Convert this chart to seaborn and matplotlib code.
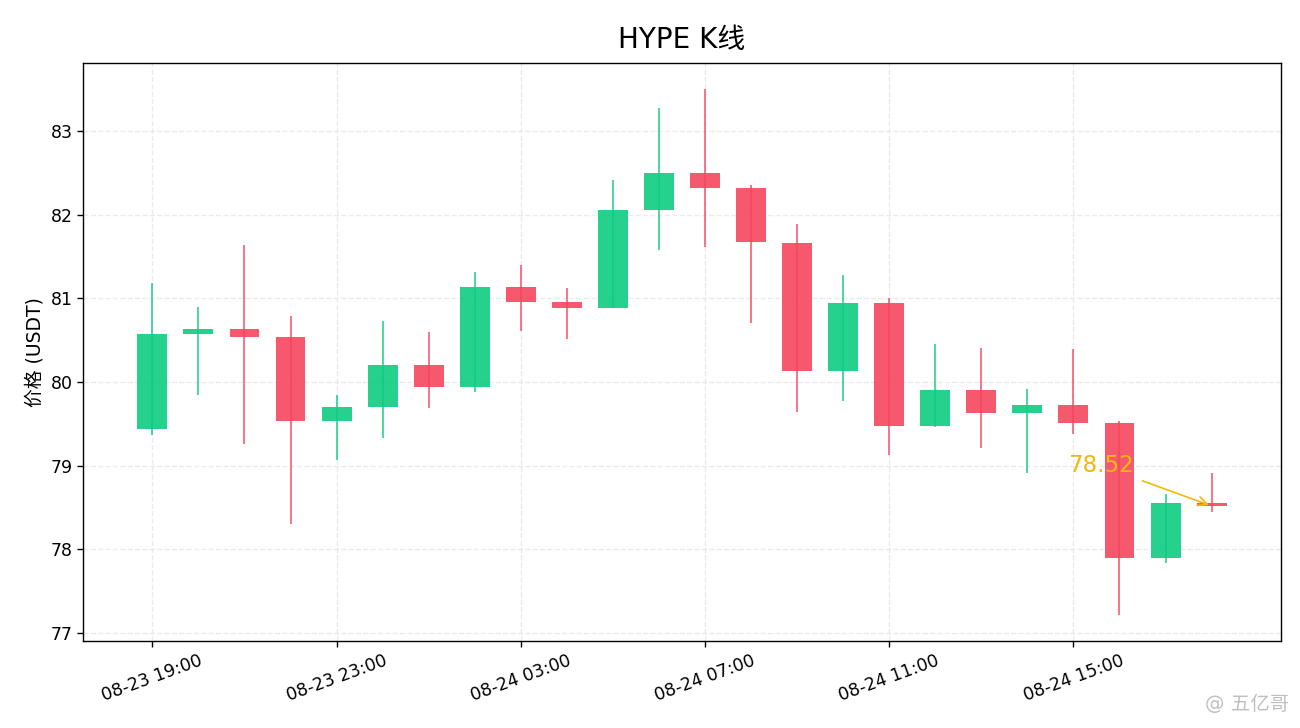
import numpy as np
import pandas as pd
import matplotlib
matplotlib.use("Agg")
import matplotlib.pyplot as plt
import seaborn as sns

times = ["08-23 19:00", "08-23 20:00", "08-23 21:00", "08-23 22:00", "08-23 23:00",
         "08-24 00:00", "08-24 01:00", "08-24 02:00", "08-24 03:00", "08-24 04:00",
         "08-24 05:00", "08-24 06:00", "08-24 07:00", "08-24 08:00", "08-24 09:00",
         "08-24 10:00", "08-24 11:00", "08-24 12:00", "08-24 13:00", "08-24 14:00",
         "08-24 15:00", "08-24 16:00", "08-24 17:00", "08-24 18:00"]
opens = [79.44, 80.58, 80.64, 80.54, 79.54, 79.70, 80.21, 79.94, 81.14, 80.96,
         80.89, 82.06, 82.50, 82.32, 81.66, 80.13, 80.95, 79.47, 79.90, 79.63,
         79.73, 79.51, 77.90, 78.56]
highs = [81.19, 80.90, 81.64, 80.79, 79.85, 80.73, 80.60, 81.31, 81.40, 81.13,
         82.42, 83.27, 83.50, 82.36, 81.89, 81.28, 81.01, 80.45, 80.41, 79.92,
         80.39, 79.54, 78.66, 78.91]
lows = [79.37, 79.84, 79.26, 78.30, 79.07, 79.33, 79.69, 79.88, 80.61, 80.52,
        80.88, 81.58, 81.61, 80.71, 79.64, 79.77, 79.13, 79.46, 79.21, 78.91,
        79.38, 77.22, 77.84, 78.45]
closes = [80.57, 80.64, 80.54, 79.54, 79.70, 80.21, 79.94, 81.14, 80.96, 80.89,
          82.06, 82.50, 82.32, 81.67, 80.13, 80.95, 79.47, 79.90, 79.63, 79.73,
          79.51, 77.90, 78.56, 78.52]
tick_every = 4

df = pd.DataFrame({"time": times, "open": opens, "high": highs,
                   "low": lows, "close": closes})
df["idx"] = np.arange(len(df))
df["up"] = df["close"] >= df["open"]

GREEN = "#0ECB81"
RED = "#F6465D"
GOLD = "#F0B90B"

sns.set_theme(style="ticks")
plt.rcParams["font.family"] = ["DejaVu Sans", "Noto Sans CJK SC"]
plt.rcParams["axes.unicode_minus"] = False
for k in ["text.color", "axes.labelcolor", "xtick.color", "ytick.color"]:
    plt.rcParams[k] = "black"

fig, ax = plt.subplots(figsize=(13, 7.28), dpi=100)
fig.subplots_adjust(left=0.0638, right=0.9854, top=0.9135, bottom=0.1195)

colors = np.where(df["up"], GREEN, RED)

ax.vlines(df["idx"], df["low"], df["high"], colors=colors, linewidth=1.4,
          alpha=0.75, zorder=2)
body_bottom = np.minimum(df["open"], df["close"])
body_height = np.abs(df["close"] - df["open"])
ax.bar(df["idx"], body_height, bottom=body_bottom, width=0.65, color=colors,
       alpha=0.9, linewidth=0, zorder=3)

last = df.iloc[-1]
ax.annotate(f"{last['close']:.2f}", xy=(last["idx"], last["close"]),
            xytext=(20.6, 79.0), textcoords="data", ha="center", va="center",
            fontsize=16.5, color=GOLD,
            arrowprops=dict(arrowstyle="->", color=GOLD, lw=1.2,
                            shrinkA=4, shrinkB=2))

ticks = df["idx"][::tick_every]
ax.set_xticks(ticks)
ax.set_xticklabels(df["time"][::tick_every], rotation=20, ha="center", fontsize=12.5)
ax.tick_params(axis="y", labelsize=12.5)
ax.tick_params(axis="both", direction="out", length=4, width=1, color="black")

ax.grid(True, linestyle="--", color="#e6e6e6", linewidth=1, alpha=0.8)
ax.set_axisbelow(True)
for s in ax.spines.values():
    s.set_color("black")
    s.set_linewidth(1)

ax.set_title("HYPE K线", fontsize=20, pad=11, color="black")
ax.set_ylabel("价格 (USDT)", fontsize=13.5)
ax.set_xlabel("")

fig.text(0.992, 0.032, "@ 五亿哥", ha="right", va="center", fontsize=14,
         color="#b0b0b0", alpha=0.8)

fig.savefig("out.png", dpi=100)
